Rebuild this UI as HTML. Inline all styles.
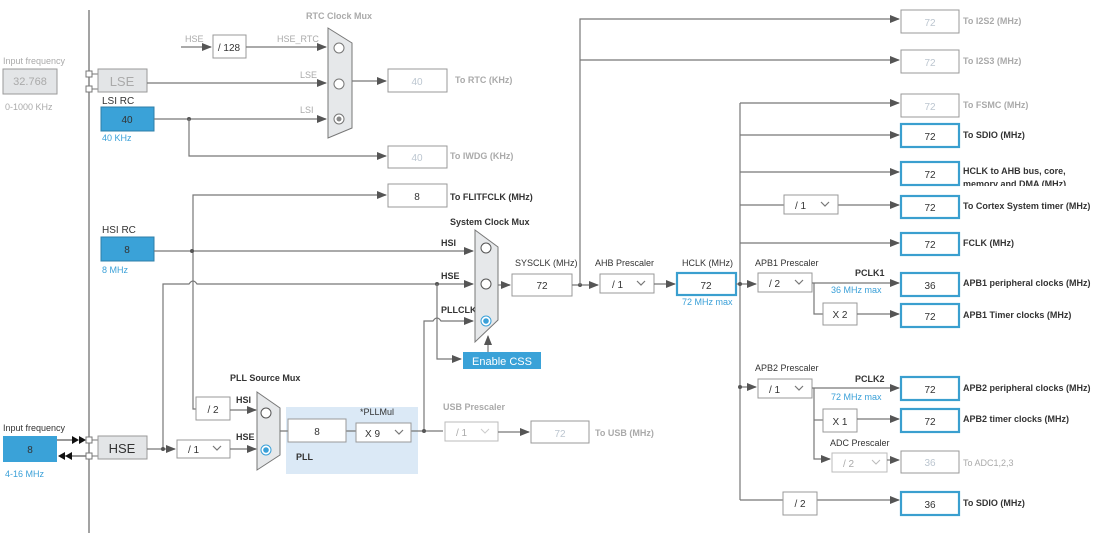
<!DOCTYPE html>
<html><head><meta charset="utf-8"><style>
html,body{margin:0;padding:0;background:#fff;}
svg{display:block;font-family:"Liberation Sans",Arial,sans-serif;}
.l{stroke:#777;stroke-width:1.2;fill:none;}
.b{fill:#fff;stroke:#999;stroke-width:1;}
.bb{fill:#fff;stroke:#3a9fcf;stroke-width:2.2;}
.blue{fill:#3aa2d8;stroke:#2f7fa8;stroke-width:1;}
.g{fill:#e3e5e7;stroke:#999;stroke-width:1;}
text{font-size:10px;fill:#333;}
.gt{fill:#aaa;}
.bt{fill:#3aa0d8;}
.bold{font-weight:bold;}
.mux{fill:#e6e8ea;stroke:#777;stroke-width:1;}
</style></head><body>
<svg width="1114" height="533" viewBox="0 0 1114 533">
<defs>
<marker id="a" markerWidth="10" markerHeight="8" refX="9" refY="4" orient="auto" markerUnits="userSpaceOnUse"><path d="M0,0 L10,4 L0,8 z" fill="#555"/></marker>
</defs>
<line x1="89" y1="10" x2="89" y2="533" stroke="#666" stroke-width="1.2"/>
<!-- LSE input -->
<text x="3" y="64" class="gt" style="font-size:9px">Input frequency</text>
<rect x="3" y="69" width="54" height="25" class="g"/>
<text x="30" y="85" text-anchor="middle" class="gt" style="font-size:11px">32.768</text>
<text x="5" y="110" class="gt" style="font-size:9px">0-1000 KHz</text>
<path d="M89,74 H98 M89,89 H98" stroke="#777"/>
<rect x="86" y="71" width="6" height="6" fill="#fff" stroke="#777"/>
<rect x="86" y="86" width="6" height="6" fill="#fff" stroke="#777"/>
<rect x="98" y="69" width="49" height="23" class="g"/>
<text x="122" y="86" text-anchor="middle" class="gt" style="font-size:13px">LSE</text>
<text x="102" y="104">LSI RC</text>
<rect x="101" y="107" width="53" height="24" class="blue"/>
<text x="127" y="123" text-anchor="middle">40</text>
<text x="102" y="141" class="bt" style="font-size:9px">40 KHz</text>
<!-- RTC mux -->
<text x="306" y="19" class="gt bold" style="font-size:9px">RTC Clock Mux</text>
<text x="185" y="42" class="gt" style="font-size:9px">HSE</text>
<path d="M181,47 H211" class="l" marker-end="url(#a)"/>
<rect x="213" y="35" width="33" height="23" class="b"/>
<text x="229" y="51" text-anchor="middle">/ 128</text>
<path d="M246,47 H326" class="l" marker-end="url(#a)"/>
<text x="277" y="42" class="gt" style="font-size:9px">HSE_RTC</text>
<path d="M147,83 H326" class="l" marker-end="url(#a)"/>
<text x="300" y="78" class="gt" style="font-size:9px">LSE</text>
<path d="M154,119 H326" class="l" marker-end="url(#a)"/>
<text x="300" y="113" class="gt" style="font-size:9px">LSI</text>
<circle cx="189" cy="119" r="2" fill="#555"/>
<path d="M189,119 V156 H386" class="l" marker-end="url(#a)"/>
<path d="M328,28 L352,43 V128 L328,138 Z" class="mux"/>
<circle cx="339" cy="48" r="5" fill="#fff" stroke="#777"/>
<circle cx="339" cy="84" r="5" fill="#fff" stroke="#777"/>
<circle cx="339" cy="119" r="5" fill="#fff" stroke="#777"/><circle cx="339" cy="119" r="2.5" fill="#888"/>
<path d="M352,81 H386" class="l" marker-end="url(#a)"/>
<rect x="388" y="69" width="59" height="23" class="b"/>
<text x="417" y="85" text-anchor="middle" style="fill:#bcc6d0">40</text>
<text x="455" y="83" class="gt bold" style="font-size:9px">To RTC (KHz)</text>
<rect x="388" y="146" width="59" height="22" class="b"/>
<text x="417" y="161" text-anchor="middle" style="fill:#bcc6d0">40</text>
<text x="450" y="159" class="gt bold" style="font-size:9px">To IWDG (KHz)</text>
<!-- FLITF -->
<path d="M196,409 H193 V195 H386" class="l" marker-end="url(#a)"/>
<rect x="388" y="184" width="59" height="23" class="b"/>
<text x="417" y="200" text-anchor="middle">8</text>
<text x="450" y="200" class="bold" style="font-size:9px">To FLITFCLK (MHz)</text>
<!-- HSI RC -->
<text x="102" y="233">HSI RC</text>
<rect x="101" y="237" width="53" height="24" class="blue"/>
<text x="127" y="253" text-anchor="middle">8</text>
<text x="102" y="273" class="bt" style="font-size:9px">8 MHz</text>
<path d="M154,251 H473" class="l" marker-end="url(#a)"/>
<circle cx="192" cy="251" r="2" fill="#555"/>
<text x="441" y="246" class="bold" style="font-size:9px">HSI</text>
<!-- HSE line -->
<path d="M163,449 V284 H189 Q193,278 197,284 H473" class="l" marker-end="url(#a)"/>
<text x="441" y="279" class="bold" style="font-size:9px">HSE</text>
<circle cx="437" cy="284" r="2" fill="#555"/>
<path d="M437,284 V359 H461" class="l" marker-end="url(#a)"/>
<path d="M424,431 V321 H433 Q437,315 441,321 H473" class="l" marker-end="url(#a)"/>
<text x="441" y="313" class="bold" style="font-size:9px">PLLCLK</text>
<text x="450" y="225" class="bold" style="font-size:9px">System Clock Mux</text>
<path d="M475,230 L498,247 V320 L475,342 Z" class="mux"/>
<circle cx="486" cy="248" r="5" fill="#fff" stroke="#555"/>
<circle cx="486" cy="284" r="5" fill="#fff" stroke="#555"/>
<circle cx="486" cy="321" r="5" fill="#fff" stroke="#3aa0d8"/><circle cx="486" cy="321" r="2.8" fill="#3aa0d8"/>
<rect x="463" y="352" width="78" height="17" fill="#3aa2d8"/>
<text x="502" y="365" text-anchor="middle" style="fill:#fff;font-size:11px">Enable CSS</text>
<path d="M488,352 V336" class="l" marker-end="url(#a)"/>
<path d="M498,285 H510" class="l" marker-end="url(#a)"/>
<text x="515" y="266" style="font-size:9px">SYSCLK (MHz)</text>
<rect x="512" y="274" width="60" height="22" class="b"/>
<text x="542" y="289" text-anchor="middle">72</text>
<path d="M572,285 H598" class="l" marker-end="url(#a)"/>
<circle cx="580" cy="285" r="2" fill="#555"/>
<path d="M580,285 V19 H899" class="l" marker-end="url(#a)"/>
<path d="M580,60 H899" class="l" marker-end="url(#a)"/>
<rect x="901" y="10" width="58" height="23" class="b"/><text x="930" y="26" text-anchor="middle" style="fill:#bcc6d0">72</text>
<text x="963" y="24" class="gt bold" style="font-size:9px">To I2S2 (MHz)</text>
<rect x="901" y="50" width="58" height="23" class="b"/><text x="930" y="66" text-anchor="middle" style="fill:#bcc6d0">72</text>
<text x="963" y="64" class="gt bold" style="font-size:9px">To I2S3 (MHz)</text>
<!-- AHB -->
<text x="595" y="266" style="font-size:9px">AHB Prescaler</text>
<rect x="600" y="274" width="54" height="19" class="b"/>
<text x="612" y="288">/ 1</text><path d="M637,281 l4,4 l4,-4" class="l"/>
<path d="M654,284 H675" class="l" marker-end="url(#a)"/>
<text x="682" y="266" style="font-size:9px">HCLK (MHz)</text>
<rect x="677" y="273" width="59" height="22" class="bb"/>
<text x="706" y="289" text-anchor="middle">72</text>
<text x="682" y="305" class="bt" style="font-size:9px">72 MHz max</text>
<!-- bus -->
<path d="M736,284 H756" class="l" marker-end="url(#a)"/>
<path d="M740,103 V500" class="l"/>
<circle cx="740" cy="284" r="2" fill="#555"/>
<path d="M740,103 H899" class="l" marker-end="url(#a)"/>
<path d="M740,135 H899" class="l" marker-end="url(#a)"/>
<path d="M740,172 H899" class="l" marker-end="url(#a)"/>
<path d="M740,205 H784 M838,205 H899" class="l" marker-end="url(#a)"/>
<path d="M740,243 H899" class="l" marker-end="url(#a)"/>
<path d="M740,387 H756" class="l" marker-end="url(#a)"/>
<circle cx="740" cy="387" r="2" fill="#555"/>
<path d="M740,500 H783 M817,500 H899" class="l" marker-end="url(#a)"/>
<rect x="901" y="94" width="58" height="23" class="b"/><text x="930" y="110" text-anchor="middle" style="fill:#bcc6d0">72</text>
<text x="963" y="108" class="gt bold" style="font-size:9px">To FSMC (MHz)</text>
<rect x="901" y="124" width="58" height="23" class="bb"/><text x="930" y="140" text-anchor="middle">72</text>
<text x="963" y="138" class="bold" style="font-size:9px">To SDIO (MHz)</text>
<rect x="901" y="162" width="58" height="23" class="bb"/><text x="930" y="178" text-anchor="middle">72</text>
<text x="963" y="174" class="bold" style="font-size:9px">HCLK to AHB bus, core,</text>
<svg x="960" y="177" width="140" height="9" overflow="hidden"><text x="3" y="10" class="bold" style="font-size:9px">memory and DMA (MHz)</text></svg>
<rect x="784" y="195" width="54" height="19" class="b"/><text x="795" y="209">/ 1</text><path d="M821,202 l4,4 l4,-4" class="l"/>
<rect x="901" y="196" width="58" height="22" class="bb"/><text x="930" y="211" text-anchor="middle">72</text>
<text x="963" y="209" class="bold" style="font-size:9px">To Cortex System timer (MHz)</text>
<rect x="901" y="233" width="58" height="22" class="bb"/><text x="930" y="248" text-anchor="middle">72</text>
<text x="963" y="246" class="bold" style="font-size:9px">FCLK (MHz)</text>
<!-- APB1 -->
<text x="755" y="266" style="font-size:9px">APB1 Prescaler</text>
<rect x="758" y="273" width="54" height="19" class="b"/><text x="769" y="287">/ 2</text><path d="M795,280 l4,4 l4,-4" class="l"/>
<path d="M812,283 H899" class="l" marker-end="url(#a)"/>
<path d="M814,283 V314 H823" class="l"/>
<text x="855" y="276" class="bold" style="font-size:9px">PCLK1</text>
<text x="831" y="293" class="bt" style="font-size:9px">36 MHz max</text>
<rect x="823" y="303" width="34" height="22" class="b"/><text x="840" y="318" text-anchor="middle">X 2</text>
<path d="M857,314 H899" class="l" marker-end="url(#a)"/>
<rect x="901" y="273" width="58" height="23" class="bb"/><text x="930" y="289" text-anchor="middle">36</text>
<text x="963" y="286" class="bold" style="font-size:9px">APB1 peripheral clocks (MHz)</text>
<rect x="901" y="304" width="58" height="23" class="bb"/><text x="930" y="320" text-anchor="middle">72</text>
<text x="963" y="318" class="bold" style="font-size:9px">APB1 Timer clocks (MHz)</text>
<!-- APB2 -->
<text x="755" y="371" style="font-size:9px">APB2 Prescaler</text>
<rect x="758" y="379" width="54" height="19" class="b"/><text x="769" y="393">/ 1</text><path d="M795,386 l4,4 l4,-4" class="l"/>
<path d="M812,388 H899" class="l" marker-end="url(#a)"/>
<path d="M814,388 V459 H830" class="l" marker-end="url(#a)"/>
<path d="M814,420 H823" class="l"/>
<text x="855" y="382" class="bold" style="font-size:9px">PCLK2</text>
<text x="831" y="400" class="bt" style="font-size:9px">72 MHz max</text>
<rect x="823" y="409" width="34" height="23" class="b"/><text x="840" y="425" text-anchor="middle">X 1</text>
<path d="M857,419 H899" class="l" marker-end="url(#a)"/>
<rect x="901" y="377" width="58" height="23" class="bb"/><text x="930" y="393" text-anchor="middle">72</text>
<text x="963" y="391" class="bold" style="font-size:9px">APB2 peripheral clocks (MHz)</text>
<rect x="901" y="409" width="58" height="23" class="bb"/><text x="930" y="425" text-anchor="middle">72</text>
<text x="963" y="422" class="bold" style="font-size:9px">APB2 timer clocks (MHz)</text>
<text x="830" y="446" style="font-size:9px">ADC Prescaler</text>
<rect x="832" y="453" width="55" height="19" class="b" style="stroke:#bbb"/><text x="843" y="467" class="gt">/ 2</text><path d="M872,460 l4,4 l4,-4" style="stroke:#bbb;fill:none"/>
<path d="M887,460 H899" class="l" marker-end="url(#a)"/>
<rect x="901" y="451" width="58" height="22" class="b"/><text x="930" y="466" text-anchor="middle" style="fill:#bcc6d0">36</text>
<text x="963" y="466" class="gt" style="font-size:9px">To ADC1,2,3</text>
<rect x="783" y="492" width="34" height="23" class="b"/><text x="800" y="507" text-anchor="middle">/ 2</text>
<rect x="901" y="492" width="58" height="23" class="bb"/><text x="930" y="508" text-anchor="middle">36</text>
<text x="963" y="506" class="bold" style="font-size:9px">To SDIO (MHz)</text>
<!-- HSE input bottom -->
<text x="3" y="431" style="font-size:9px">Input frequency</text>
<rect x="3" y="436" width="54" height="26" fill="#3aa2d8"/>
<text x="30" y="453" text-anchor="middle">8</text>
<text x="5" y="477" class="bt" style="font-size:9px">4-16 MHz</text>
<path d="M57,440 H76" stroke="#333" stroke-width="1"/>
<path d="M72,436 L79,440 L72,444 Z M79,436 L86,440 L79,444 Z" fill="#111"/>
<path d="M60,456 H87" stroke="#333" stroke-width="1"/>
<path d="M65,452 L58,456 L65,460 Z M72,452 L65,456 L72,460 Z" fill="#111"/>
<path d="M89,440 H98 M89,456 H98" stroke="#777"/>
<rect x="86" y="437" width="6" height="6" fill="#fff" stroke="#777"/>
<rect x="86" y="453" width="6" height="6" fill="#fff" stroke="#777"/>
<rect x="98" y="436" width="49" height="23" class="g"/>
<text x="122" y="453" text-anchor="middle" style="font-size:13px">HSE</text>
<path d="M147,449 H175" class="l" marker-end="url(#a)"/>
<circle cx="163" cy="449" r="2" fill="#555"/>
<rect x="177" y="440" width="53" height="18" class="b"/><text x="188" y="453">/ 1</text><path d="M213,446 l4,4 l4,-4" class="l"/>
<path d="M230,449 H256" class="l" marker-end="url(#a)"/>
<!-- PLL source mux -->
<rect x="196" y="397" width="34" height="23" class="b"/><text x="213" y="413" text-anchor="middle">/ 2</text>
<path d="M230,410 H256" class="l" marker-end="url(#a)"/>
<text x="236" y="403" class="bold" style="font-size:9px">HSI</text>
<text x="236" y="440" class="bold" style="font-size:9px">HSE</text>
<text x="230" y="381" class="bold" style="font-size:9px">PLL Source Mux</text>
<path d="M257,392 L280,408 V455 L257,470 Z" class="mux"/>
<circle cx="266" cy="413" r="5" fill="#fff" stroke="#555"/>
<circle cx="266" cy="450" r="5" fill="#fff" stroke="#3aa0d8"/><circle cx="266" cy="450" r="2.8" fill="#3aa0d8"/>
<rect x="286" y="407" width="132" height="67" fill="#dbe9f6"/>
<path d="M280,431 H288 M346,431 H356 M411,431 H443" class="l"/>
<rect x="288" y="419" width="58" height="23" class="b"/><text x="317" y="435" text-anchor="middle">8</text>
<text x="360" y="415" style="font-size:9px">*PLLMul</text>
<rect x="356" y="423" width="55" height="19" class="b"/><text x="365" y="437">X 9</text><path d="M395,430 l4,4 l4,-4" class="l"/>
<text x="296" y="460" class="bold" style="font-size:9px">PLL</text>
<circle cx="424" cy="431" r="2" fill="#555"/>
<!-- USB -->
<text x="443" y="410" class="gt bold" style="font-size:9px">USB Prescaler</text>
<rect x="445" y="422" width="53" height="19" class="b" style="stroke:#bbb"/><text x="456" y="436" class="gt">/ 1</text><path d="M481,429 l4,4 l4,-4" style="stroke:#ccc;fill:none"/>
<path d="M498,432 H529" class="l" marker-end="url(#a)"/>
<rect x="531" y="421" width="58" height="22" class="b"/><text x="560" y="437" text-anchor="middle" style="fill:#bcc6d0">72</text>
<text x="595" y="436" class="gt bold" style="font-size:9px">To USB (MHz)</text>
</svg>
</body></html>
